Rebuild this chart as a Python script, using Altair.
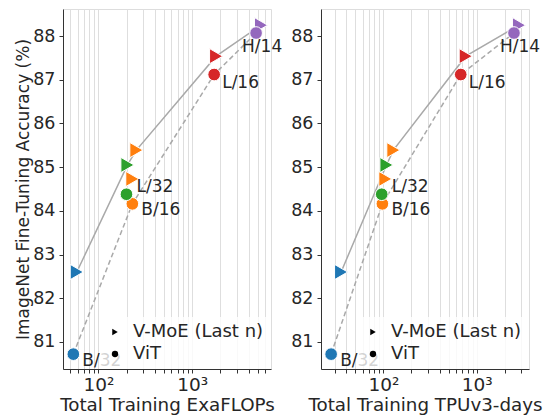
import altair as alt
import pandas as pd

# ---- data ----
sizes = ["B/32", "B/16", "L/32", "L/16", "H/14"]
size_colors = ["#1f77b4", "#ff7f0e", "#2ca02c", "#d62728", "#9467bd"]
families = ["V-MoE (Last n)", "ViT"]

vit_size = ["B/32", "B/16", "L/32", "L/16", "H/14"]
vit_acc = [80.72, 84.16, 84.38, 87.12, 88.07]
vit_exaflops = [54, 230, 199, 1714, 4797]
vit_tpu_days = [27.6, 97.6, 96, 673, 2500]
vit_on_front = [True, True, False, True, True]

vmoe_size = ["B/32", "B/16", "B/16", "L/32", "L/16", "H/14"]
vmoe_acc = [82.6, 84.73, 85.39, 85.05, 87.54, 88.25]
vmoe_exaflops = [58.8, 230, 254, 204, 1799, 5420]
vmoe_tpu_days = [35.3, 105, 128, 108, 762, 2830]
vmoe_on_front = [True, False, True, True, True, True]

y_ticks = [81, 82, 83, 84, 85, 86, 87, 88]

# label offsets (style, pixels)
label_offsets = {"B/32": (9, 7), "B/16": (9, 6), "L/32": (10, -7),
                 "L/16": (8, 8), "H/14": (-14, 14)}

rows = []
for s, a, e, t, f in zip(vmoe_size, vmoe_acc, vmoe_exaflops, vmoe_tpu_days, vmoe_on_front):
    rows.append(dict(family=families[0], size=s, acc=a, exaflops=e, tpu=t, front=f))
for s, a, e, t, f in zip(vit_size, vit_acc, vit_exaflops, vit_tpu_days, vit_on_front):
    rows.append(dict(family=families[1], size=s, acc=a, exaflops=e, tpu=t, front=f))
df = pd.DataFrame(rows)

FONT = "DejaVu Sans"
TXT = "#262626"


def minor_ticks(lo, hi):
    vals = []
    for p in [1, 10, 100, 1000]:
        for m in range(1, 10):
            v = m * p
            if lo <= v <= hi:
                vals.append(v)
    return vals


def panel(xfield, xtitle, xdomain, show_ytitle):
    xs = alt.Scale(type="log", domain=xdomain, nice=False)
    ys = alt.Scale(domain=[80.38, 88.62], nice=False, zero=False)
    x_axis = alt.Axis(
        values=minor_ticks(*xdomain),
        labelExpr="datum.value == 100 ? '10²' : datum.value == 1000 ? '10³' : ''",
        grid=True, gridColor="#dedede", gridWidth=1,
        tickSize=4, tickColor="#333", domainColor="#333",
        labelFontSize=18.5, labelColor=TXT, labelFlush=False, labelOverlap=False,
        labelPadding=2,
        title=xtitle, titleFontSize=18.3, titleFontWeight="normal", titleColor=TXT,
        titlePadding=3,
    )
    y_axis = alt.Axis(
        values=y_ticks, grid=False, tickSize=4, tickColor="#333", domainColor="#333",
        labelFontSize=17.5, labelColor=TXT, labelPadding=4,
        title="ImageNet Fine-Tuning Accuracy (%)" if show_ytitle else None,
        titleFontSize=17, titleFontWeight="normal", titleColor=TXT, titlePadding=0,
    )
    X = alt.X(f"{xfield}:Q", scale=xs, axis=x_axis)
    Y = alt.Y("acc:Q", scale=ys, axis=y_axis)
    legend = alt.Legend(
        title=None, orient="none", legendX=37, legendY=308,
        labelFontSize=18, labelColor=TXT, labelFont=FONT,
        symbolSize=40, symbolFillColor="black", symbolStrokeColor="black",
        symbolStrokeWidth=0, fillColor="rgba(255,255,255,0.8)",
        padding=6, rowPadding=4, labelOffset=9,
    )
    shape = alt.Shape("family:N", scale=alt.Scale(domain=families,
                                                  range=["triangle-right", "circle"]),
                      legend=legend)
    color = alt.Color("size:N", scale=alt.Scale(domain=sizes, range=size_colors),
                      legend=None)

    base = alt.Chart(df)
    line_moe = base.transform_filter(
        (alt.datum.family == families[0]) & alt.datum.front
    ).mark_line(color="#a9a9a9", strokeWidth=1.5).encode(x=X, y=Y)
    line_vit = base.transform_filter(
        (alt.datum.family == families[1]) & alt.datum.front
    ).mark_line(color="#a9a9a9", strokeWidth=1.5, strokeDash=[5, 3]).encode(x=X, y=Y)
    tri = base.transform_filter(alt.datum.family == families[0]).mark_point(
        filled=True, opacity=1, size=230, stroke="white", strokeWidth=1
    ).encode(x=X, y=Y, color=color, shape=shape)
    circ = base.transform_filter(alt.datum.family == families[1]).mark_point(
        filled=True, opacity=1, size=160, stroke="white", strokeWidth=1
    ).encode(x=X, y=Y, color=color, shape=shape)
    texts = []
    for s in sizes:
        dx, dy = label_offsets[s]
        texts.append(
            base.transform_filter(
                (alt.datum.family == families[1]) & (alt.datum.size == s)
            ).mark_text(align="left", baseline="middle", dx=dx, dy=dy,
                        fontSize=17, font=FONT, color=TXT)
            .encode(x=X, y=Y, text="size:N")
        )
    return alt.layer(line_moe, line_vit, tri, circ, *texts).properties(
        width=208, height=360
    )


left = panel("exaflops", "Total Training ExaFLOPs", [41.9, 6920], True)
right = panel("tpu", "Total Training TPUv3-days", [21.5, 3620], False)

chart = alt.hconcat(left, right, spacing=50, bounds="flush").resolve_scale(
    x="independent", shape="independent"
).resolve_legend(shape="independent").properties(
    padding={"left": 6, "top": 0, "right": 0, "bottom": 0}
).configure_view(stroke="#333", strokeWidth=1).configure(font=FONT)

chart.save("out.html", embed_options={"renderer": "svg", "actions": False})
